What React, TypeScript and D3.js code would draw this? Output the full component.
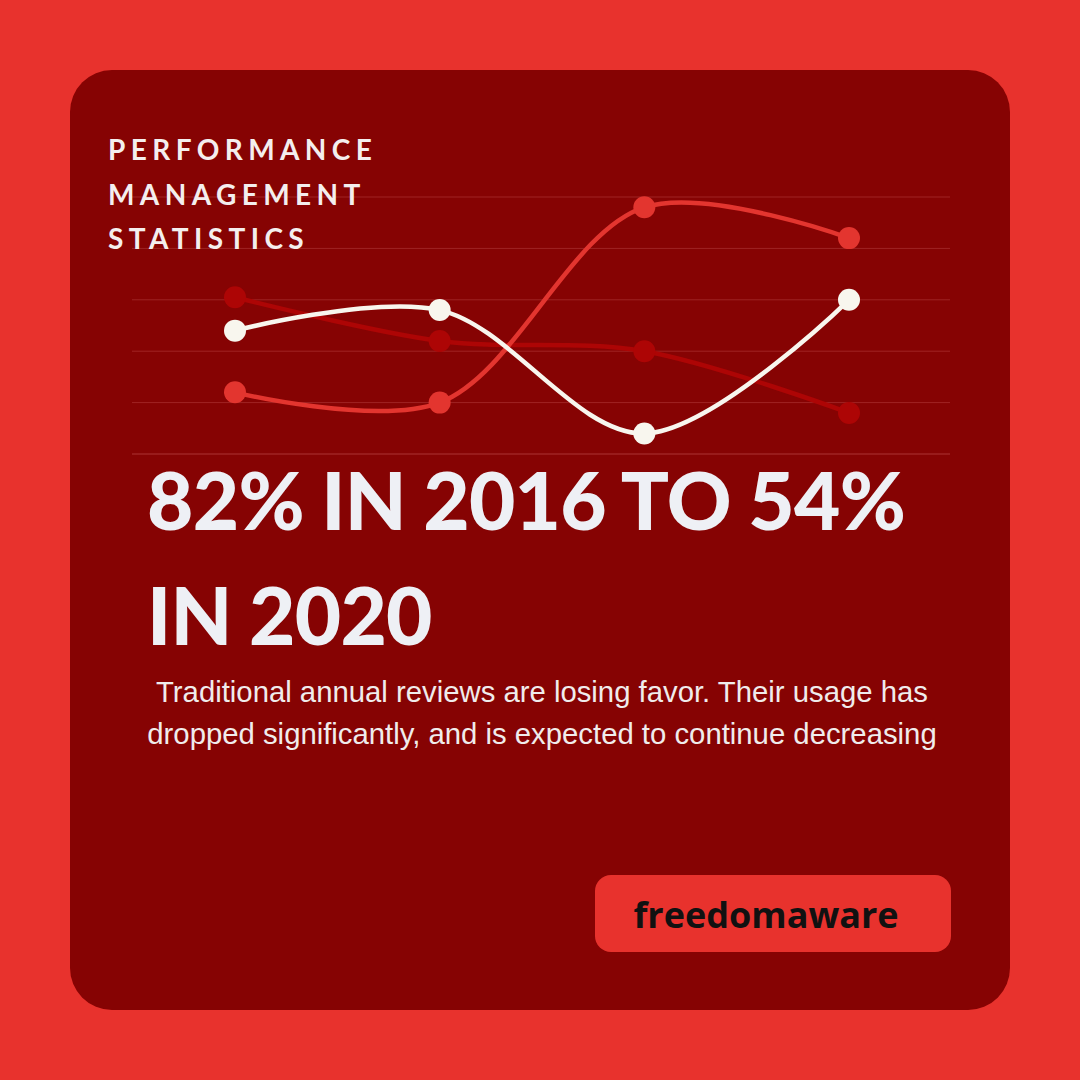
import * as d3 from 'd3';

// years on the x axis (not labelled in the picture)
const years = ['2017', '2018', '2019', '2020'];
const ticks = [0, 20, 40, 60, 80, 100];

// values, 0-100 scale
const brightSeries = [24, 20, 96, 84];
const darkSeries = [61, 44, 40, 16];
const lightSeries = [48, 56, 8, 60];

const titleLines = ['PERFORMANCE', 'MANAGEMENT', 'STATISTICS'];
const headlineLines = ['82% IN 2016 TO 54%', 'IN 2020'];
const bodyLines = [
    'Traditional annual reviews are losing favor. Their usage has',
    'dropped significantly, and is expected to continue decreasing',
];
const brand = 'freedomaware';

const W = 1080;
const H = 1080;
const BG = '#e8322d';
const CARD = '#860303';

export default function App() {
    // chart area inside the card
    const x = d3.scalePoint<string>().domain(years).range([235, 849]);
    const y = d3.scaleLinear().domain([0, 100]).range([454, 197]);

    const line = d3.line<number>()
        .x((_, i) => x(years[i]) as number)
        .y(d => y(d))
        .curve(d3.curveCatmullRom.alpha(0.5));

    const series = [
        { name: 'dark', values: darkSeries, color: '#ad0505' },
        { name: 'bright', values: brightSeries, color: '#e3352f' },
        { name: 'light', values: lightSeries, color: '#f8f6ee' },
    ];

    return (
        <svg width={W} height={H} style={{ position: 'absolute', left: 0, top: 0 }}>
            <rect width={W} height={H} fill={BG} />
            <rect x={70} y={70} width={940} height={940} rx={42} fill={CARD} />

            {/* gridlines */}
            <g>
                {ticks.map(t => (
                    <line key={t} x1={132} x2={950} y1={y(t)} y2={y(t)}
                        stroke="#b03a3a" strokeOpacity={t === 0 ? 0.9 : 0.6} strokeWidth={1} />
                ))}
            </g>

            {/* title */}
            <g fontFamily="Lato, 'Open Sans', sans-serif" fontWeight={700} fontSize={28}
                fill="#f4eeee" letterSpacing={5.4}>
                {titleLines.map((s, i) => (
                    <text key={s} x={108} y={160 + i * 44.5}>{s}</text>
                ))}
            </g>

            {/* lines and points */}
            {series.map(s => (
                <g key={s.name}>
                    <path d={line(s.values) ?? ''} fill="none" stroke={s.color} strokeWidth={4.5} />
                    {s.values.map((v, i) => (
                        <circle key={i} cx={x(years[i])} cy={y(v)} r={11} fill={s.color} />
                    ))}
                </g>
            ))}

            {/* headline */}
            <g fontFamily="Lato, sans-serif" fontWeight={900} fontSize={80} fill="#eef0f5">
                {headlineLines.map((s, i) => (
                    <text key={s} x={147} y={530 + i * 115} letterSpacing={-0.7} wordSpacing={-1}>{s}</text>
                ))}
            </g>

            {/* body text */}
            <g fontFamily="'Liberation Sans', Arial, sans-serif" fontSize={29.3} fill="#f0ecec" textAnchor="middle">
                {bodyLines.map((s, i) => (
                    <text key={s} x={542} y={702 + i * 42}>{s}</text>
                ))}
            </g>

            {/* brand button */}
            <rect x={595} y={875} width={356} height={77} rx={16} fill={BG} />
            <text x={766} y={928} textAnchor="middle" fontFamily="'Open Sans', sans-serif"
                fontWeight={700} fontSize={36} fill="#111">{brand}</text>
        </svg>
    );
}
